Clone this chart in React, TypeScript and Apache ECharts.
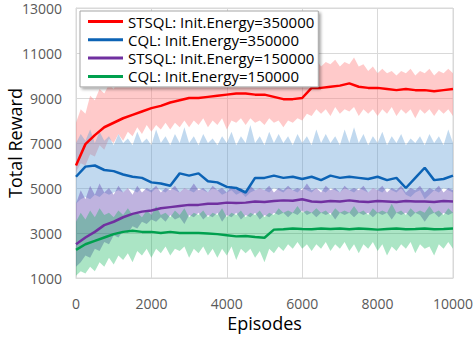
import { useEffect, useRef } from "react";
import * as echarts from "echarts";

// Episodes sampled for the smoothed mean curves
const meanEpisodes = [0, 250, 500, 750, 1000, 1250, 1500, 1750, 2000, 2250, 2500, 2750, 3000, 3250, 3500, 3750, 4000, 4250, 4500, 4750, 5000, 5250, 5500, 5750, 6000, 6250, 6500, 6750, 7000, 7250, 7500, 7750, 8000, 8250, 8500, 8750, 9000, 9250, 9500, 9750, 10000];

// Episodes sampled for the raw (noisy) reward envelopes
const bandEpisodes = [0, 125, 250, 375, 500, 625, 750, 875, 1000, 1125, 1250, 1375, 1500, 1625, 1750, 1875, 2000, 2125, 2250, 2375, 2500, 2625, 2750, 2875, 3000, 3125, 3250, 3375, 3500, 3625, 3750, 3875, 4000, 4125, 4250, 4375, 4500, 4625, 4750, 4875, 5000, 5125, 5250, 5375, 5500, 5625, 5750, 5875, 6000, 6125, 6250, 6375, 6500, 6625, 6750, 6875, 7000, 7125, 7250, 7375, 7500, 7625, 7750, 7875, 8000, 8125, 8250, 8375, 8500, 8625, 8750, 8875, 9000, 9125, 9250, 9375, 9500, 9625, 9750, 9875, 10000];

const seriesNames = [
  "STSQL: Init.Energy=350000",
  "CQL: Init.Energy=350000",
  "STSQL: Init.Energy=150000",
  "CQL: Init.Energy=150000",
];

const stsql350Mean = [6000, 6950, 7350, 7700, 7900, 8100, 8250, 8400, 8550, 8650, 8800, 8900, 9000, 9000, 9050, 9100, 9150, 9200, 9200, 9150, 9150, 9050, 8950, 8950, 9000, 9450, 9450, 9500, 9550, 9650, 9500, 9450, 9450, 9400, 9350, 9400, 9350, 9350, 9300, 9350, 9400];
const cql350Mean = [5500, 5950, 6000, 5800, 5750, 5600, 5500, 5450, 5250, 5200, 5100, 5650, 5550, 5650, 5300, 5250, 5050, 5000, 4800, 5450, 5450, 5550, 5450, 5500, 5400, 5500, 5350, 5550, 5450, 5500, 5450, 5400, 5500, 5350, 5450, 5000, 5450, 5900, 5350, 5400, 5550];
const stsql150Mean = [2500, 2800, 3050, 3350, 3500, 3700, 3850, 3950, 4000, 4100, 4150, 4200, 4250, 4250, 4300, 4300, 4350, 4330, 4350, 4400, 4380, 4420, 4450, 4430, 4500, 4400, 4380, 4420, 4400, 4450, 4400, 4380, 4420, 4400, 4380, 4420, 4400, 4400, 4380, 4420, 4400];
const cql150Mean = [2250, 2500, 2650, 2800, 2950, 3050, 3100, 3050, 3050, 3000, 3050, 3000, 3000, 3000, 2980, 2950, 2900, 2850, 2870, 2820, 2790, 3150, 3170, 3200, 3180, 3170, 3200, 3180, 3200, 3170, 3200, 3180, 3150, 3180, 3200, 3170, 3180, 3200, 3170, 3180, 3200];

const stsql350Upper = [7900, 8500, 8300, 9100, 8900, 9400, 9200, 9600, 9400, 9800,
  9500, 9900, 9700, 10000, 9800, 10100, 9900, 10200, 9900, 10300,
  10000, 10200, 9900, 10300, 10100, 10400, 10000, 10300, 10100, 10400,
  10000, 10300, 10100, 10400, 10200, 10300, 10000, 10300, 10100, 10300,
  10000, 10300, 10000, 10200, 10000, 10200, 10100, 10400, 10300, 10600,
  10500, 10700, 10400, 10600, 10500, 10700, 10400, 10600, 10500, 10800,
  10400, 10500, 10200, 10400, 10100, 10300, 10100, 10200, 10000, 10200,
  10100, 10300, 10000, 10200, 10100, 10300, 10000, 10200, 10100, 10300,
  10100];
const stsql350Lower = [5700, 6100, 6000, 6500, 6400, 6900, 6700, 7200, 7000, 7400,
  7100, 7500, 7300, 7700, 7400, 7800, 7500, 7800, 7600, 7900,
  7600, 7900, 7700, 8000, 7700, 8000, 7800, 8100, 7700, 8000,
  7800, 8100, 7600, 8000, 7900, 8100, 7800, 8100, 7900, 8000,
  7800, 8100, 7900, 8000, 7700, 8000, 7900, 8100, 8000, 8300,
  8200, 8500, 8300, 8500, 8200, 8600, 8300, 8500, 8400, 8600,
  8200, 8500, 8300, 8500, 8200, 8500, 8300, 8600, 8200, 8500,
  8300, 8500, 8100, 8500, 8300, 8500, 8200, 8500, 8300, 8500,
  8200];

const cql350Upper = [7000, 7400, 7100, 7600, 7000, 7500, 7100, 7300, 6900, 7400,
  7000, 7200, 6900, 7500, 7000, 7200, 6900, 7600, 7000, 7300,
  6900, 7400, 7000, 7700, 7000, 7300, 6900, 7400, 7000, 7200,
  6900, 7300, 7000, 7500, 6900, 7300, 7000, 7800, 7000, 7300,
  6900, 7500, 7000, 7400, 7000, 7300, 6900, 7400, 7000, 7300,
  6900, 7600, 7000, 7400, 7000, 7300, 6900, 7600, 7000, 7700,
  7000, 7400, 6900, 7300, 7000, 7500, 6900, 7300, 7000, 7400,
  6900, 7200, 7000, 7300, 6900, 7400, 7000, 7300, 6900, 7600,
  7000];
const cql350Lower = [4300, 4500, 4600, 4500, 4700, 4600, 4800, 4700, 4800, 4900,
  4800, 5000, 4900, 4800, 5000, 4900, 4800, 5000, 4900, 4800,
  5000, 4900, 4800, 5000, 4900, 4800, 5000, 4900, 4800, 5000,
  4900, 4700, 4800, 4900, 4700, 4800, 4600, 4800, 4900, 5000,
  4900, 4800, 5000, 4900, 4800, 5000, 4900, 4800, 5000, 4900,
  4800, 5000, 4900, 4800, 5000, 4900, 4800, 5000, 4900, 4800,
  5000, 4900, 4800, 5000, 4900, 4800, 5000, 4900, 4800, 5000,
  4700, 4600, 4800, 4900, 4500, 4700, 4900, 4800, 5000, 4900,
  4800];

const stsql150Upper = [4300, 4900, 4500, 5100, 4700, 5200, 4800, 5000, 4700, 5100,
  4800, 5000, 4700, 5100, 4800, 5000, 4900, 5100, 4800, 5000,
  4900, 5100, 4800, 5000, 4900, 5200, 4900, 5000, 4800, 5100,
  4900, 5000, 4800, 5100, 4900, 5000, 4800, 5100, 4900, 5000,
  4900, 5100, 4800, 5000, 4900, 5100, 4900, 5000, 4900, 5200,
  4900, 5000, 4800, 5100, 4900, 5000, 4800, 5100, 4900, 5000,
  4900, 5100, 4800, 5000, 4900, 5100, 4800, 5000, 4900, 5100,
  4800, 5000, 4900, 5100, 4800, 5000, 4900, 5100, 4800, 5000,
  4900];
const stsql150Lower = [1500, 1700, 2000, 1900, 2300, 2200, 2600, 2500, 2900, 2800,
  3100, 3000, 3300, 3200, 3500, 3400, 3600, 3500, 3700, 3500,
  3800, 3600, 3700, 3400, 3800, 3700, 3900, 3600, 3800, 3700,
  3900, 3500, 3800, 3700, 3900, 3600, 3800, 3700, 3900, 3600,
  3800, 3700, 3900, 3800, 3900, 3700, 3900, 3800, 4000, 3800,
  3900, 3700, 3900, 3800, 3900, 3600, 3900, 3800, 3900, 3700,
  3900, 3800, 3900, 3700, 3900, 3800, 3900, 3600, 3900, 3800,
  3900, 3700, 3900, 3800, 3500, 3800, 3900, 3700, 3900, 3800,
  3900];

const cql150Upper = [3500, 3900, 3600, 4000, 3700, 4100, 3800, 3900, 3700, 4000,
  3800, 4100, 3800, 3900, 3700, 4000, 3800, 4200, 3800, 3900,
  3700, 4000, 3800, 4100, 3700, 3900, 3800, 4000, 3700, 3900,
  3800, 4100, 3700, 3900, 3800, 4000, 3700, 3900, 3800, 4000,
  3700, 3900, 3800, 4100, 3900, 4000, 3900, 4200, 3900, 4000,
  3900, 4100, 3900, 4000, 3800, 4100, 3900, 4000, 3900, 4200,
  3900, 4000, 3800, 4100, 3900, 4000, 3900, 4300, 3900, 4000,
  3800, 4100, 3900, 4000, 3900, 4200, 3900, 4000, 3800, 4100,
  3900];
const cql150Lower = [1100, 1300, 1200, 1500, 1300, 1700, 1500, 1900, 1600, 2000,
  1800, 2100, 1700, 2200, 2000, 2300, 1900, 2300, 2100, 2400,
  2000, 2300, 2200, 2400, 1900, 2300, 2100, 2400, 2000, 2300,
  1900, 2300, 2000, 2400, 1800, 2300, 2100, 2300, 1900, 2200,
  1700, 2300, 2100, 2400, 2200, 2500, 2300, 2600, 2300, 2500,
  2200, 2500, 2300, 2600, 2200, 2500, 2300, 2600, 2200, 2500,
  2100, 2500, 2300, 2600, 2200, 2500, 2000, 2400, 2200, 2500,
  2300, 2600, 2100, 2500, 2300, 2400, 2000, 2500, 2300, 2600,
  2300];

const xTicks = { min: 0, max: 10000, interval: 2000 };
const yTicks = { min: 1000, max: 13000, interval: 2000 };

const lineColors = ["#ff0000", "#0c63b5", "#7030a0", "#00a04e"];
const bandColors = ["#ff8080", "#5b9bd5", "#6040b0", "#00b050"];
const bandOpacity = [0.42, 0.38, 0.4, 0.33];

const pair = (xs: number[], ys: number[]) => xs.map((x, i) => [x, ys[i]]);

function bandSeries(id: string, lower: number[], upper: number[], color: string, opacity: number) {
  return {
    type: "custom",
    name: id,
    silent: true,
    z: 1,
    clip: true,
    data: [0],
    encode: { x: [], y: [] },
    renderItem: (_params: any, api: any) => {
      const pts: number[][] = [];
      for (let i = 0; i < bandEpisodes.length; i++) pts.push(api.coord([bandEpisodes[i], upper[i]]));
      for (let i = bandEpisodes.length - 1; i >= 0; i--) pts.push(api.coord([bandEpisodes[i], lower[i]]));
      return {
        type: "polygon",
        shape: { points: pts },
        style: { fill: color, opacity },
      };
    },
  };
}

function meanSeries(name: string, values: number[], color: string) {
  return {
    type: "line",
    name,
    data: pair(meanEpisodes, values),
    symbol: "none",
    lineStyle: { color, width: 2.5 },
    itemStyle: { color },
    z: 3,
  };
}

export default function App() {
  const ref = useRef<HTMLDivElement>(null);
  useEffect(() => {
    if (!ref.current) return;
    const chart = echarts.init(ref.current, null, { renderer: "svg" });
    const font = "'Open Sans', 'DejaVu Sans', sans-serif";
    chart.setOption({
      animation: false,
      backgroundColor: "#ffffff",
      textStyle: { fontFamily: font },
      grid: {
        left: 76,
        right: 21,
        top: 8,
        bottom: 59,
        show: true,
        borderColor: "#d9d9d9",
        borderWidth: 1,
        containLabel: false,
        outerBoundsMode: "none",
      },
      legend: {
        data: seriesNames,
        orient: "vertical",
        left: 80,
        top: 11,
        icon: "rect",
        itemWidth: 35,
        itemHeight: 3,
        itemGap: 3.3,
        padding: [3, 4, 3, 8],
        backgroundColor: "#ffffff",
        borderColor: "#a6a6a6",
        borderWidth: 1,
        shadowColor: "rgba(0,0,0,0.35)",
        shadowBlur: 3,
        shadowOffsetX: 2,
        shadowOffsetY: 2,
        textStyle: { fontFamily: font, fontSize: 15, color: "#000000", lineHeight: 15 },
        z: 10,
      },
      xAxis: {
        type: "value",
        min: xTicks.min,
        max: xTicks.max,
        interval: xTicks.interval,
        name: "Episodes",
        nameLocation: "middle",
        nameGap: 36,
        nameMoveOverlap: false,
        nameTextStyle: { fontFamily: font, fontSize: 18, color: "#000000", verticalAlign: "top" },
        axisLine: { show: true, lineStyle: { color: "#d9d9d9" } },
        axisTick: { show: false },
        axisLabel: { color: "#595959", fontSize: 14, margin: 18, fontFamily: font, formatter: (v: number) => String(v) },
        splitLine: { show: true, lineStyle: { color: "#d9d9d9", width: 1 } },
      },
      yAxis: {
        type: "value",
        min: yTicks.min,
        max: yTicks.max,
        interval: yTicks.interval,
        name: "Total Reward",
        nameLocation: "middle",
        nameGap: 52,
        nameMoveOverlap: false,
        nameTextStyle: { fontFamily: font, fontSize: 18, color: "#000000", verticalAlign: "bottom" },
        axisLine: { show: true, lineStyle: { color: "#d9d9d9" } },
        axisTick: { show: false },
        axisLabel: { color: "#595959", fontSize: 14, margin: 14, fontFamily: font, formatter: (v: number) => String(v) },
        splitLine: { show: true, lineStyle: { color: "#d9d9d9", width: 1 } },
      },
      series: [
        bandSeries("b0", stsql350Lower, stsql350Upper, bandColors[0], bandOpacity[0]),
        bandSeries("b1", cql350Lower, cql350Upper, bandColors[1], bandOpacity[1]),
        bandSeries("b2", stsql150Lower, stsql150Upper, bandColors[2], bandOpacity[2]),
        bandSeries("b3", cql150Lower, cql150Upper, bandColors[3], bandOpacity[3]),
        meanSeries(seriesNames[3], cql150Mean, lineColors[3]),
        meanSeries(seriesNames[2], stsql150Mean, lineColors[2]),
        meanSeries(seriesNames[1], cql350Mean, lineColors[1]),
        meanSeries(seriesNames[0], stsql350Mean, lineColors[0]),
      ],
    });
    return () => chart.dispose();
  }, []);
  return <div ref={ref} style={{ width: 474, height: 337, position: "absolute", left: 0, top: 0 }} />;
}
